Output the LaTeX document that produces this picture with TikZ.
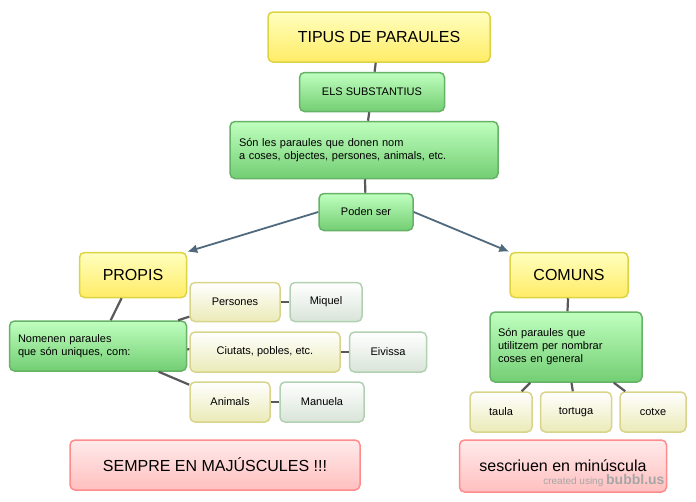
\documentclass[tikz,border=0pt]{standalone}
\usepackage{fontspec}
\setmainfont{Liberation Sans}
\usetikzlibrary{arrows.meta}
\definecolor{arcol}{RGB}{80,105,125}
\begin{document}
\begin{tikzpicture}[x=1pt,y=-1pt,
 box/.style={rounded corners=5pt,line width=1.5pt,align=left,inner sep=0pt,font=\fontsize{11}{13}\selectfont},
 yel/.style={box,draw=yellow!55!olive!70,top color=yellow!25,bottom color=yellow!75!orange!60,font=\fontsize{16}{18}\selectfont},
 grn/.style={box,draw=green!50!black!60,top color=green!25,bottom color=green!65!black!55},
 lyel/.style={box,draw=olive!35,top color=white,bottom color=yellow!20!olive!20},
 lgrn/.style={box,draw=green!40!black!30,top color=white,bottom color=green!30!black!15},
 pnk/.style={box,draw=red!45,top color=red!8,bottom color=red!25,font=\fontsize{16}{18}\selectfont},
 ln/.style={draw=black!65,line width=2.2pt},
 ar/.style={draw=arcol,line width=1.8pt,-{Latex[length=10pt,width=9pt]}}]
\useasboundingbox (0,0) rectangle (696,501);
\node[yel,minimum width=222pt,minimum height=50pt] (t) at (379,37) {TIPUS DE PARAULES};
\node[grn,minimum width=145pt,minimum height=39pt] (e) at (372,92) {ELS SUBSTANTIUS};
\node[grn,minimum width=268pt,minimum height=57pt,text width=250pt] (s) at (364,150) {Són les paraules que donen nom\\ a coses, objectes, persones, animals, etc.};
\node[grn,minimum width=94pt,minimum height=37pt] (p) at (366,212) {Poden ser};
\node[yel,minimum width=107pt,minimum height=45pt] (pr) at (133,275) {PROPIS};
\node[yel,minimum width=118pt,minimum height=45pt] (co) at (569,275) {COMUNS};
\node[grn,minimum width=177pt,minimum height=50pt,text width=160pt] (n) at (98,346) {Nomenen paraules\\ que són uniques, com:};
\node[lyel,minimum width=90pt,minimum height=39pt] (pe) at (235,302) {Persones};
\node[lgrn,minimum width=72pt,minimum height=39pt] (mi) at (326,302) {Miquel};
\node[lyel,minimum width=150pt,minimum height=40pt] (ci) at (265,352) {Ciutats, pobles, etc.};
\node[lgrn,minimum width=77pt,minimum height=40pt] (ei) at (388,352) {Eivissa};
\node[lyel,minimum width=80pt,minimum height=40pt] (an) at (230,402) {Animals};
\node[lgrn,minimum width=84pt,minimum height=40pt] (ma) at (322,402) {Manuela};
\node[grn,minimum width=152pt,minimum height=70pt,text width=136pt] (sp) at (566,347) {Són paraules que\\ utilitzem per nombrar\\ coses en general};
\node[lyel,minimum width=62pt,minimum height=40pt] (ta) at (501,412) {taula};
\node[lyel,minimum width=71pt,minimum height=40pt] (to) at (576,412) {tortuga};
\node[lyel,minimum width=66pt,minimum height=40pt] (cx) at (653,412) {cotxe};
\node[pnk,minimum width=290pt,minimum height=50pt] (se) at (215,465) {SEMPRE EN MAJÚSCULES !!!};
\node[pnk,minimum width=207pt,minimum height=52pt] (sc) at (563,466) {sescriuen en minúscula};
\node[text=black!35,font=\fontsize{10}{10}\selectfont,anchor=south east] (wm) at (668,490) {created using \textbf{\fontsize{14}{14}\selectfont bubbl.us}};
\draw[ln] (t)--(e); \draw[ln] (e)--(s); \draw[ln] (s)--(p);
\draw[ar] (p.west)--(pr.north east); \draw[ar] (p.east)--(co.north west);
\draw[ln] (pr)--(n); \draw[ln] (co)--(sp);
\draw[ln] (n)--(pe); \draw[ln] (n)--(ci); \draw[ln] (n)--(an);
\draw[ln] (pe)--(mi); \draw[ln] (ci)--(ei); \draw[ln] (an)--(ma);
\draw[ln] (sp)--(ta); \draw[ln] (sp)--(to); \draw[ln] (sp)--(cx);
\end{tikzpicture}
\end{document}
